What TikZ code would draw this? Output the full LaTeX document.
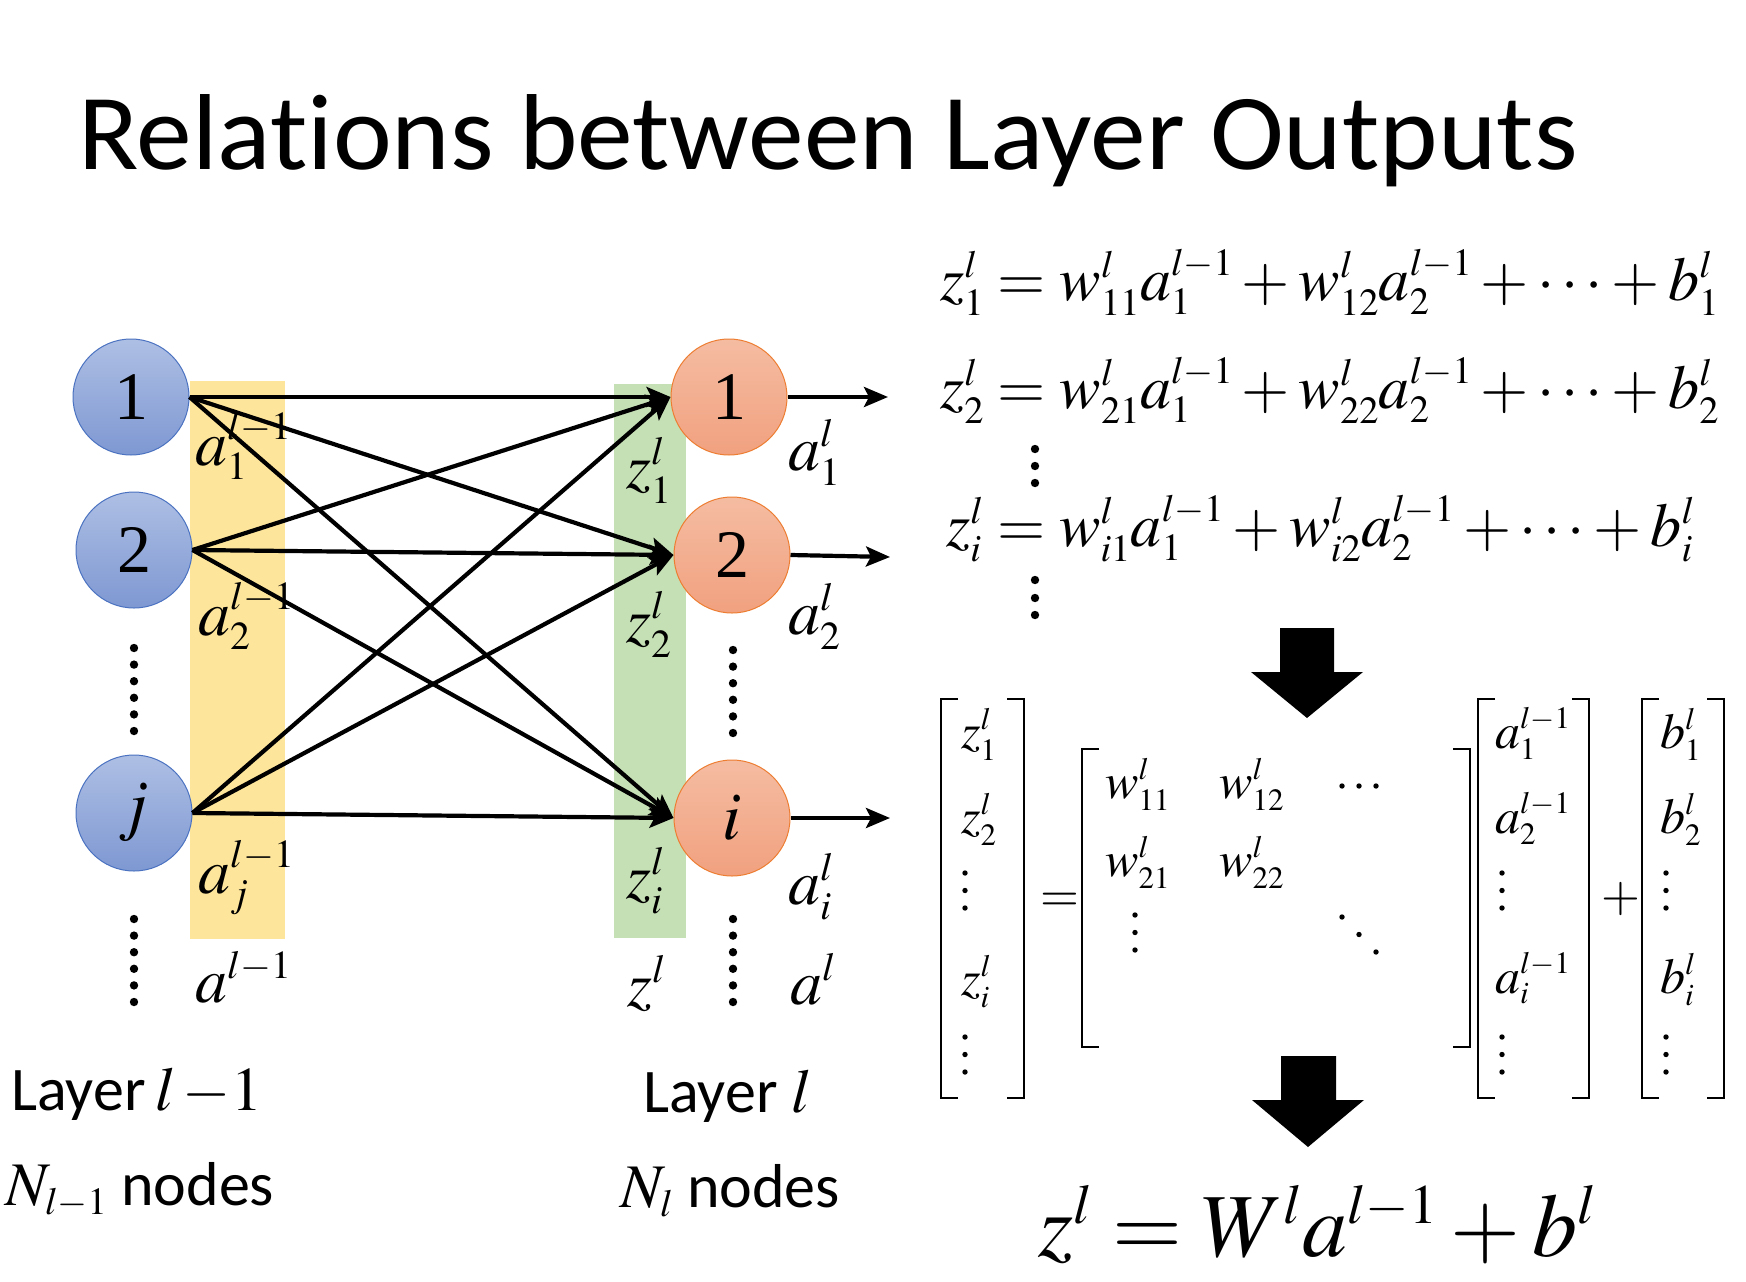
\documentclass[tikz,border=0pt]{standalone}
\usepackage{mathptmx}
\usepackage[no-math]{fontspec}
\setmainfont{Liberation Serif}
\newfontfamily\calib[Ligatures=NoCommon]{Carlito}
\usetikzlibrary{arrows.meta}
\renewcommand\defaultscriptratio{.62}
\definecolor{bluetop}{HTML}{AEBFE4}
\definecolor{bluebot}{HTML}{7E98D2}
\definecolor{blueline}{HTML}{4A72C0}
\definecolor{ortop}{HTML}{F5BCA2}
\definecolor{orbot}{HTML}{F1A17F}
\definecolor{orline}{HTML}{ED7D31}
\definecolor{yel}{HTML}{FDE59B}
\definecolor{grn}{HTML}{C6E0B5}
\tikzset{
  lnode/.style={circle, minimum size=116pt, inner sep=0pt, draw=blueline, line width=1pt,
    top color=bluetop, bottom color=bluebot, font=\fontsize{68}{70}\selectfont},
  rnode/.style={circle, minimum size=116pt, inner sep=0pt, draw=orline, line width=1pt,
    top color=ortop, bottom color=orbot, font=\fontsize{68}{70}\selectfont},
  conn/.style={line width=4.2pt, -{Stealth[length=24pt,width=20pt,inset=5pt]}},
  lab/.style={anchor=base west, inner sep=0pt, font=\fontsize{64}{70}\selectfont},
  eqn/.style={anchor=base west, inner sep=0pt, font=\fontsize{62}{70}\selectfont},
  mat/.style={anchor=base west, inner sep=0pt, font=\fontsize{50}{54}\selectfont},
  sans/.style={anchor=base west, inner sep=0pt, font=\calib\fontsize{62}{70}\selectfont},
  brk/.style={line width=2.5pt},
  bigarrow/.style={fill=black},
  bdot/.style={fill=black},
}
\begin{document}
\begin{tikzpicture}[x=1pt,y=-1pt]
\useasboundingbox (0,0) rectangle (1746,1282);
% title
\node[anchor=base west, inner sep=0pt, xscale=1.032, font=\calib\fontsize{108}{120}\selectfont] (title) at (78,169) {Relations between Layer Outputs};
% background bands
\fill[yel] (190,381) rectangle (285,939);
\fill[grn] (614,384) rectangle (686,938);
% layer l-1 nodes
\node[lnode] (a1) at (131,397) {1};
\node[lnode] (a2) at (134,550) {2};
\node[lnode] (aj) at (134,813) {$j$};
% layer l nodes
\node[rnode] (b1) at (729,397) {1};
\node[rnode] (b2) at (732,555) {2};
\node[rnode] (bi) at (732,818) {$i$};
% connections
\foreach \s in {a1,a2,aj}{
  \foreach \t in {b1,b2,bi}{
    \draw[conn] (\s.east) -- (\t.west);
  }
}
% outputs
\coordinate (o1) at (888,397);
\coordinate (o2) at (890,557);
\coordinate (oi) at (890,818);
\draw[conn] (b1.east) -- (o1);
\draw[conn] (b2.east) -- (o2);
\draw[conn] (bi.east) -- (oi);
% dots in network
\foreach \x/\y in {134/648, 134/919, 733/650, 733/919}{
  \foreach \k in {0,...,5}{
    \fill[bdot] (\x,\y+\k*16.6) circle (4.2);
  }
}
% labels
\node[lab] (la1) at (195,465) {$a_1^{l-1}$};
\node[lab] (la2) at (198,635) {$a_2^{l-1}$};
\node[lab] (laj) at (198,893) {$a_j^{l-1}$};
\node[lab] (la) at (195,1002) {$a^{l-1}$};
\node[lab] (lz1) at (626,488) {$z_1^l$};
\node[lab] (lz2) at (626,642) {$z_2^l$};
\node[lab] (lzi) at (626,898) {$z_i^l$};
\node[lab] (lz) at (627,1006) {$z^l$};
\node[lab] (lo1) at (788,470) {$a_1^l$};
\node[lab] (lo2) at (788,634) {$a_2^l$};
\node[lab] (loi) at (788,904) {$a_i^l$};
\node[lab] (lo) at (790,1004) {$a^l$};
% layer captions
\node[sans] (cap1) at (11,1110) {Layer\hspace{-4pt} $l\,{-}1$};
\node[sans] (cap2) at (5,1205) {$N_{l-1}$ nodes};
\node[sans] (cap3) at (643,1112) {Layer $l$};
\node[sans] (cap4) at (620,1207) {$N_l$ nodes};
% equations
\node[eqn] (e1) at (940,300) {$z_1^l=w_{11}^l a_1^{l-1}+w_{12}^l a_2^{l-1}+\cdots+b_1^l$};
\node[eqn] (e2) at (940,408) {$z_2^l=w_{21}^l a_1^{l-1}+w_{22}^l a_2^{l-1}+\cdots+b_2^l$};
\node[eqn] (e3) at (946,546) {$z_i^l=w_{i1}^l a_1^{l-1}+w_{i2}^l a_2^{l-1}+\cdots+b_i^l$};
\foreach \y in {449,466,483,580,598,615}{ \fill[bdot] (1035,\y) circle (4.2); }
% big arrows
\fill[bigarrow] (1280,628) -- (1334,628) -- (1334,672) -- (1363,672) -- (1307,718) -- (1251,672) -- (1280,672) -- cycle;
\fill[bigarrow] (1281,1056) -- (1336,1056) -- (1336,1100) -- (1364,1100) -- (1308,1147) -- (1252,1100) -- (1281,1100) -- cycle;
% matrix equation: brackets
\draw[brk] (958,699) -- (941,699) -- (941,1098) -- (958,1098);
\draw[brk] (1007,699) -- (1024,699) -- (1024,1098) -- (1007,1098);
\draw[brk] (1099,749) -- (1082,749) -- (1082,1047) -- (1099,1047);
\draw[brk] (1453,749) -- (1470,749) -- (1470,1047) -- (1453,1047);
\draw[brk] (1495,699) -- (1478,699) -- (1478,1098) -- (1495,1098);
\draw[brk] (1572,699) -- (1589,699) -- (1589,1098) -- (1572,1098);
\draw[brk] (1659,699) -- (1642,699) -- (1642,1098) -- (1659,1098);
\draw[brk] (1707,699) -- (1724,699) -- (1724,1098) -- (1707,1098);
% matrix entries
\node[mat] (mz1) at (961,748) {$z_1^l$};
\node[mat] (mz2) at (961,833) {$z_2^l$};
\node[mat] (mzi) at (961,995) {$z_i^l$};
\node[mat] (meq) at (1040,911) {$=$};
\node[mat] (mw11) at (1105,798) {$w_{11}^l$};
\node[mat] (mw12) at (1219,798) {$w_{12}^l$};
\node[mat] (mw21) at (1105,876) {$w_{21}^l$};
\node[mat] (mw22) at (1219,876) {$w_{22}^l$};
\node[mat] (ma1) at (1495,748) {$a_1^{l-1}$};
\node[mat] (ma2) at (1495,833) {$a_2^{l-1}$};
\node[mat] (mai) at (1495,993) {$a_i^{l-1}$};
\node[mat] (mplus) at (1601,911) {$+$};
\node[mat] (mb1) at (1660,748) {$b_1^l$};
\node[mat] (mb2) at (1660,833) {$b_2^l$};
\node[mat] (mbi) at (1660,993) {$b_i^l$};
\foreach \x/\y in {965/873, 965/1037, 1502/873, 1502/1037, 1666/873, 1666/1037, 1135/915}{
  \foreach \k in {0,1,2}{ \fill[bdot] (\x,\y+\k*17.5) circle (2.7); }
}
\foreach \k in {0,1,2}{
  \fill[bdot] (1342+\k*17,786) circle (2.7);
  \fill[bdot] (1342+\k*17,917+\k*17.5) circle (2.7);
}
% final equation
\node[anchor=base west, inner sep=0pt, font=\fontsize{90}{100}\selectfont] (final) at (1038,1256) {$z^l=W^l a^{l-1}+b^l$};
\end{tikzpicture}
\end{document}
